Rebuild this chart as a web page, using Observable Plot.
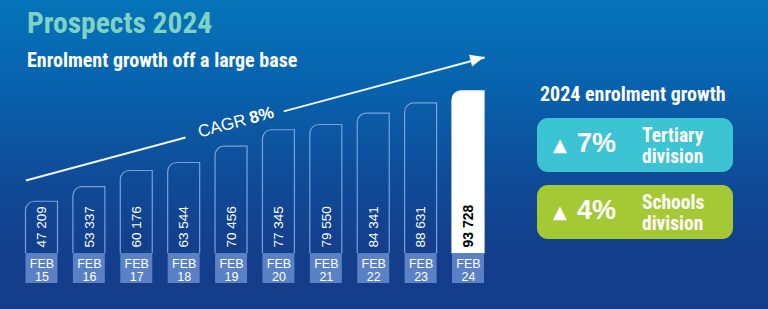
<!DOCTYPE html>
<html><head><meta charset="utf-8">
<script src="https://cdn.jsdelivr.net/npm/d3@7"></script>
<script src="https://cdn.jsdelivr.net/npm/@observablehq/plot@0.6"></script>
<style>
html,body{margin:0;padding:0;background:#143d8a;}
body{width:768px;height:309px;overflow:hidden;}
#wrap{position:relative;width:768px;height:309px;overflow:hidden;
  background:linear-gradient(180deg,#0574b8 0%,#0862ad 28%,#0f4b98 58%,#133f8c 80%,#143c89 100%);
  font-family:"Liberation Sans Narrow","Arial Narrow","Roboto Condensed","Liberation Sans",sans-serif;color:#fff;}
.abs{position:absolute;white-space:nowrap;}
#title{left:27px;top:8px;font-size:29.5px;line-height:30px;font-weight:700;color:#80d2c4;}
#subtitle{left:27px;top:51px;font-size:20px;line-height:19px;font-weight:700;}
#phead{left:540px;top:85px;font-size:20px;line-height:19px;font-weight:700;}
.box{position:absolute;left:537px;width:196px;border-radius:11px;}
.tri{position:absolute;left:16px;font-family:"DejaVu Sans",sans-serif;font-size:18px;line-height:18px;}
.pct{position:absolute;left:40px;font-family:"Liberation Sans","Open Sans",sans-serif;font-size:27px;line-height:27px;font-weight:700;}
.lbl{position:absolute;left:105px;font-size:19.5px;line-height:21px;font-weight:700;white-space:nowrap;}
#chart{position:absolute;left:0;top:0;}
</style></head>
<body><div id="wrap">
<div class="abs" id="title"></div>
<div class="abs" id="subtitle"></div>
<div class="abs" id="phead"></div>
<div id="panel"></div>
<div id="chart"></div>
</div>
<script>
// ---- data ----
const titleText = "Prospects 2024";
const subtitleText = "Enrolment growth off a large base";
const years = ["15","16","17","18","19","20","21","22","23","24"];
const monthLabel = "FEB";
const enrolments = [47209,53337,60176,63544,70456,77345,79550,84341,88631,93728];
const baseValue = 25400;
const cagrSegments = [
  {x1:-0.34, y1:56200, x2:3.03, y2:74300},
  {x1:5.10, y1:85300, x2:9.34, y2:108000}
];
const cagrLabel = [{x:4.30, y:81900, a:"CAGR", b:"8%"}];
const panelHeading = "2024 enrolment growth";
const growthPct = ["7%","4%"];
const growthLines = [["Tertiary","division"],["Schools","division"]];
const growthColors = ["#3cc4d4","#a5c935"];
const growthTops = [118,185];

// ---- html texts ----
document.getElementById("title").textContent = titleText;
document.getElementById("subtitle").textContent = subtitleText;
document.getElementById("phead").textContent = panelHeading;
const panel = document.getElementById("panel");
growthPct.forEach((p,k)=>{
  const b = document.createElement("div");
  b.className="box"; b.style.top=growthTops[k]+"px"; b.style.height="54px"; b.style.background=growthColors[k];
  b.innerHTML = `<div class="tri" style="top:18px">▲</div><div class="pct" style="top:12px">${p}</div>`+
    `<div class="lbl" style="top:7px">${growthLines[k][0]}</div>`+
    `<div class="lbl" style="top:28px">${growthLines[k][1]}</div>`;
  panel.appendChild(b);
});

// ---- chart ----
const rows = enrolments.map((v,i)=>({i, v, year: years[i], last: i===enrolments.length-1}));
const fmt = d3.formatLocale({thousands:" ", grouping:[3], decimal:".", currency:["",""]}).format(",");
const hw = 0.3375;

function barsMark(index, scales) {
  const {x, y} = scales;
  const g = d3.create("svg:g");
  const r = 9, boxH = 30;
  rows.forEach(d => {
    const x0 = x(d.i - hw), x1 = x(d.i + hw), top = y(d.v), bot = y(baseValue);
    g.append("path")
      .attr("d", `M${x0},${bot}V${top+r}A${r},${r} 0 0 1 ${x0+r},${top}H${x1}V${bot}` + (d.last ? "Z" : ""))
      .attr("fill", d.last ? "#ffffff" : "none")
      .attr("stroke", d.last ? "#ffffff" : "#8fafe4")
      .attr("stroke-opacity", d.last ? 1 : 0.85)
      .attr("stroke-width", 1.2);
    g.append("rect").attr("x", x0).attr("y", bot).attr("width", x1-x0).attr("height", boxH)
      .attr("fill", "#5a81c6");
  });
  // arrow head at end of last trend segment
  const s = cagrSegments[cagrSegments.length-1];
  const ax = x(s.x2), ay = y(s.y2), bx = x(s.x1), by = y(s.y1);
  const ang = Math.atan2(ay-by, ax-bx), L = 14, W = 6;
  const px = ax - L*Math.cos(ang), py = ay - L*Math.sin(ang);
  const nx = -Math.sin(ang), ny = Math.cos(ang);
  g.append("path")
    .attr("d", `M${ax},${ay}L${px+W*nx},${py+W*ny}L${px-W*nx},${py-W*ny}Z`)
    .attr("fill", "#ffffff");
  return g.node();
}

const chart = Plot.plot({
  width: 768, height: 309,
  style: {background: "transparent", overflow: "visible"},
  x: {type: "linear", domain: [-0.5, 9.5], range: [17.8, 491.7], axis: null},
  y: {type: "linear", domain: [baseValue, 100000], range: [253, 76], axis: null},
  marks: [
    Plot.link(cagrSegments, {x1:"x1", y1:"y1", x2:"x2", y2:"y2", stroke:"#eef4fb", strokeWidth:2}),
    barsMark,
    Plot.text(rows.filter(d=>!d.last), {x:"i", y:()=>baseValue, text:d=>fmt(d.v), rotate:-90, textAnchor:"start",
      dy:-6, fill:"#ffffff", fontSize:13.5, fontFamily:"Liberation Sans, Arial, sans-serif"}),
    Plot.text(rows.filter(d=>d.last), {x:"i", y:()=>baseValue, text:d=>fmt(d.v), rotate:-90, textAnchor:"start",
      dy:-6, fill:"#000000", fontWeight:"bold", fontSize:14, fontFamily:"Liberation Sans, Arial, sans-serif"}),
    Plot.text(rows, {x:"i", y:()=>baseValue, text:d=>`${monthLabel}\n${d.year}`, dy:16.5, lineHeight:1.06,
      fill:"#ffffff", fontSize:12.5, fontFamily:"Liberation Sans Narrow, Arial Narrow, Liberation Sans, sans-serif"}),
    Plot.text(cagrLabel, {x:"x", y:"y", text:"a", rotate:-15, textAnchor:"end", fill:"#ffffff", fontSize:17,
      fontFamily:"Liberation Sans, Arial, sans-serif"}),
    Plot.text(cagrLabel, {x:"x", y:"y", text:"b", rotate:-15, textAnchor:"start", dx:3.9, dy:-1, fill:"#ffffff",
      fontSize:17, fontWeight:"bold", fontFamily:"Liberation Sans Narrow, Arial Narrow, Liberation Sans, sans-serif"})
  ]
});
document.getElementById("chart").appendChild(chart);
</script>
</body></html>
